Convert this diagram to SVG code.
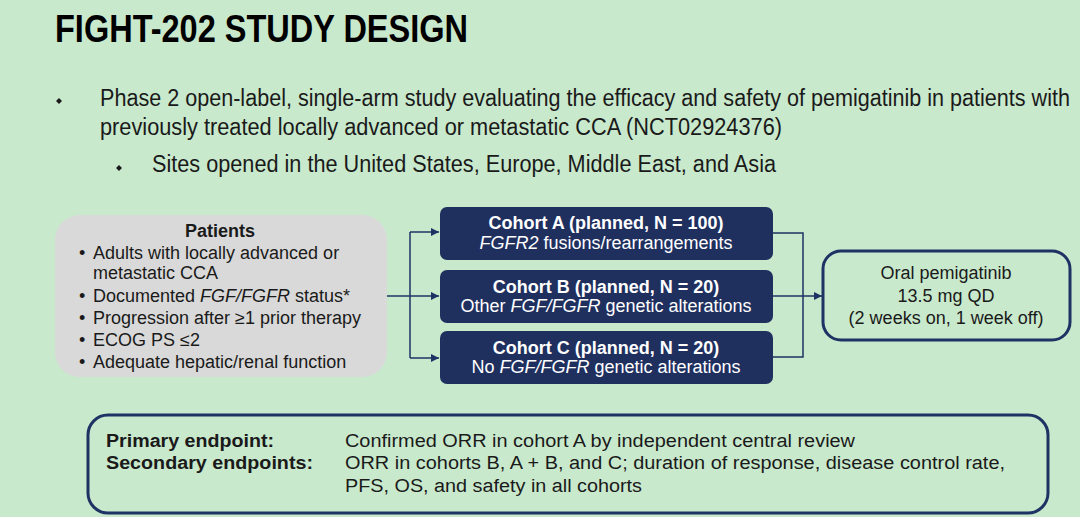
<svg xmlns="http://www.w3.org/2000/svg" width="1080" height="517" viewBox="0 0 1080 517">
<defs>
<style>
text{font-family:"Liberation Sans",Arial,sans-serif;fill:#1a1a1a}
.title{font-size:38px;font-weight:bold;fill:#000}
.body{font-size:23px}
.pt{font-size:18px}
.ct{font-size:18px;fill:#fff;text-anchor:middle}
.b{font-weight:bold}
.ep{font-size:18px}
.con{fill:none;stroke:#1f3264;stroke-width:1.5}
.cohort{fill:#1f305f}
</style>
<marker id="ah" viewBox="0 0 10 10" refX="10" refY="5" markerWidth="8" markerHeight="8" markerUnits="userSpaceOnUse" orient="auto">
<path d="M0,0 L10,5 L0,10 z" fill="#1f3264"/>
</marker>
</defs>
<rect width="1080" height="517" fill="#c9e9cd"/>

<g id="title">
<text class="title" x="55" y="42" textLength="413" lengthAdjust="spacingAndGlyphs">FIGHT-202 STUDY DESIGN</text>
</g>

<g id="bullets">
<path d="M59,98 L62,101 L59,104 L56,101 z" fill="#1a1a1a"/>
<text class="body" x="100" y="106" textLength="970" lengthAdjust="spacingAndGlyphs">Phase 2 open-label, single-arm study evaluating the efficacy and safety of pemigatinib in patients with</text>
<text class="body" x="100" y="135" textLength="682" lengthAdjust="spacingAndGlyphs">previously treated locally advanced or metastatic CCA (NCT02924376)</text>
<path d="M119,165 L122,168 L119,171 L116,168 z" fill="#1a1a1a"/>
<text class="body" x="152" y="172" textLength="624" lengthAdjust="spacingAndGlyphs">Sites opened in the United States, Europe, Middle East, and Asia</text>
</g>

<g id="patients">
<rect x="55" y="215" width="332" height="162" rx="25" fill="#d9d9d9"/>
<text class="pt b" x="220" y="237" text-anchor="middle">Patients</text>
<g class="pt">
<text x="79" y="259">•</text><text x="93" y="259">Adults with locally advanced or</text>
<text x="93" y="279">metastatic CCA</text>
<text x="79" y="302">•</text><text x="93" y="302">Documented <tspan font-style="italic">FGF/FGFR</tspan> status*</text>
<text x="79" y="324">•</text><text x="93" y="324">Progression after ≥1 prior therapy</text>
<text x="79" y="346">•</text><text x="93" y="346">ECOG PS ≤2</text>
<text x="79" y="368">•</text><text x="93" y="368">Adequate hepatic/renal function</text>
</g>
</g>

<g id="cohortA">
<rect class="cohort" x="440" y="207" width="333" height="53" rx="7"/>
<text class="ct b" x="606" y="229">Cohort A (planned, N = 100)</text>
<text class="ct" x="606" y="249"><tspan font-style="italic">FGFR2</tspan> fusions/rearrangements</text>
</g>
<g id="cohortB">
<rect class="cohort" x="440" y="270" width="333" height="53" rx="7"/>
<text class="ct b" x="606" y="293">Cohort B (planned, N = 20)</text>
<text class="ct" x="606" y="312">Other <tspan font-style="italic">FGF/FGFR</tspan> genetic alterations</text>
</g>
<g id="cohortC">
<rect class="cohort" x="440" y="331" width="333" height="53" rx="7"/>
<text class="ct b" x="606" y="354">Cohort C (planned, N = 20)</text>
<text class="ct" x="606" y="373">No <tspan font-style="italic">FGF/FGFR</tspan> genetic alterations</text>
</g>

<g id="treatment">
<rect x="823" y="251" width="247" height="89" rx="18" fill="#c9e9cd" stroke="#1f3264" stroke-width="3"/>
<text class="pt" x="946" y="279" text-anchor="middle">Oral pemigatinib</text>
<text class="pt" x="946" y="302" text-anchor="middle">13.5 mg QD</text>
<text class="pt" x="946" y="324" text-anchor="middle">(2 weeks on, 1 week off)</text>
</g>

<g id="connectors">
<path class="con" d="M387,296 H410"/>
<path class="con" d="M410,232 V358"/>
<path class="con" d="M410,232 H439" marker-end="url(#ah)"/>
<path class="con" d="M410,296 H439" marker-end="url(#ah)"/>
<path class="con" d="M410,358 H439" marker-end="url(#ah)"/>
<path class="con" d="M773,233 H803 V357 H773"/>
<path class="con" d="M773,296 H822" marker-end="url(#ah)"/>
</g>

<g id="endpoints">
<rect x="88" y="415" width="960" height="98" rx="20" fill="#c9e9cd" stroke="#1f3264" stroke-width="3"/>
<text class="ep b" x="106" y="447" textLength="168" lengthAdjust="spacingAndGlyphs">Primary endpoint:</text>
<text class="ep b" x="106" y="469" textLength="207" lengthAdjust="spacingAndGlyphs">Secondary endpoints:</text>
<text class="ep" x="345" y="447" textLength="510" lengthAdjust="spacingAndGlyphs">Confirmed ORR in cohort A by independent central review</text>
<text class="ep" x="345" y="469" textLength="660" lengthAdjust="spacingAndGlyphs">ORR in cohorts B, A + B, and C; duration of response, disease control rate,</text>
<text class="ep" x="345" y="492" textLength="297" lengthAdjust="spacingAndGlyphs">PFS, OS, and safety in all cohorts</text>
</g>
</svg>
